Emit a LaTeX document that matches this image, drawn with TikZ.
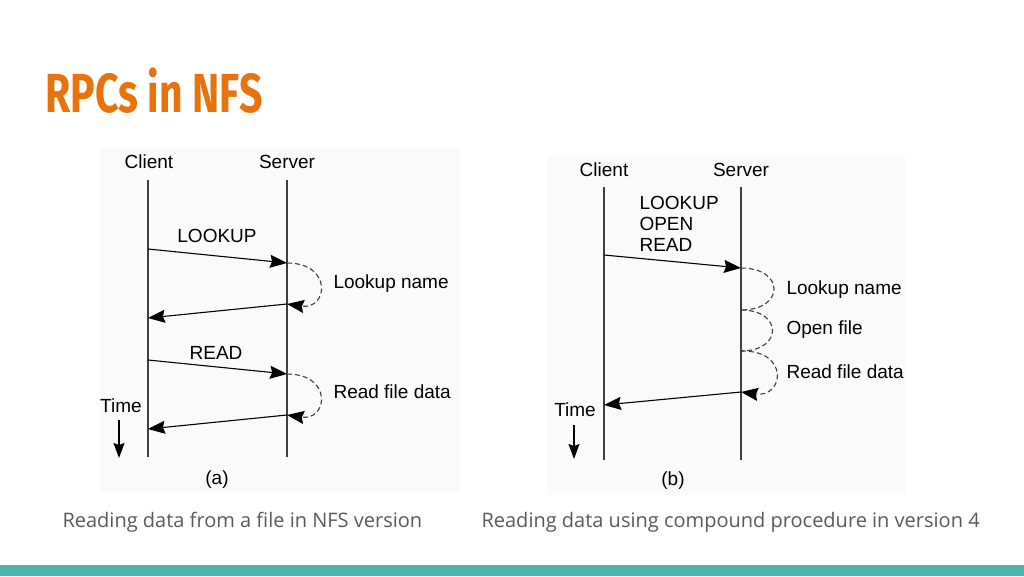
\documentclass[tikz,border=0pt]{standalone}
\usepackage{fontspec}
\setmainfont{Liberation Sans}
\newfontfamily\titlefont{Fira Sans}
\newfontfamily\capfont{Open Sans}
\usetikzlibrary{arrows.meta}
\definecolor{slideorange}{HTML}{E8730C}
\definecolor{slideteal}{HTML}{4DB6AC}
\definecolor{capgray}{HTML}{5A5A5A}

\begin{document}
\begin{tikzpicture}[x=1pt,y=-1pt]
            \tikzset{
            rpc label/.style={font=\fontsize{19}{21}\selectfont},
            rpc line/.style={draw=black!75,line width=1.2pt},
            rpc tip/.style={-{Stealth[length=17pt,width=13pt,inset=2pt,color=black]}},
            rpc msg/.style={line width=1.1pt,rpc tip},
            rpc work/.style={dash pattern=on 5pt off 3pt,draw=black!75,line width=1.1pt},
            rpc time/.style={line width=1.3pt,-{Stealth[length=15pt,width=11pt,inset=2pt]}},
            cap text/.style={font=\capfont\fontsize{20}{22}\selectfont,text=capgray}
            }
            \useasboundingbox (0,0) rectangle (1024,576);
            \fill[white] (0,0) rectangle (1024,576);
            \fill[slideteal] (0,565) rectangle (1024,576);
            \node[anchor=west,text=slideorange,inner sep=0] (title) at (45,91)
                {\scalebox{0.745}[1]{\titlefont\bfseries\fontsize{55}{55}\selectfont RPCs in NFS}};

            % (a)
            \fill[black!2] (100,148) rectangle (460,492);
            \node[rpc label] (ca) at (149,162) {Client};
            \node[rpc label] (sa) at (287,162) {Server};
            \coordinate (ca1) at (148,180);
            \coordinate (ca2) at (148,457);
            \coordinate (sa1) at (287,180);
            \coordinate (sa2) at (287,457);
            \path[rpc line] (ca1) -- (ca2) (sa1) -- (sa2);
            \coordinate (a1) at (148,249);
            \coordinate (a2) at (287,263);
            \coordinate (a3) at (287,304);
            \coordinate (a4) at (148,318);
            \coordinate (a5) at (148,360);
            \coordinate (a6) at (287,374);
            \coordinate (a7) at (287,415);
            \coordinate (a8) at (148,429);
            \draw[rpc msg] (a1) -- (a2);
            \draw[rpc msg] (a3) -- (a4);
            \draw[rpc msg] (a5) -- (a6);
            \draw[rpc msg] (a7) -- (a8);
            \draw[rpc work,rpc tip] (a2) .. controls (333,263) and (328,310) .. (a3);
            \draw[rpc work,rpc tip] (a6) .. controls (333,374) and (328,421) .. (a7);
            \node[rpc label] (lk) at (217,236) {LOOKUP};
            \node[rpc label] (rd) at (216,353) {READ};
            \node[rpc label,anchor=west] (lna) at (330,284) {Lookup name};
            \node[rpc label,anchor=west] (rfa) at (330,392) {Read file data};
            \node[rpc label] (ta) at (121,406) {Time};
            \coordinate (ta1) at (119,420);
            \coordinate (ta2) at (119,458);
            \draw[rpc time] (ta1) -- (ta2);
            \node[rpc label] (pa) at (217,480) {(a)};

            % (b)
            \fill[black!2] (547,155) rectangle (905,495);
            \node[rpc label] (cb) at (604,170) {Client};
            \node[rpc label] (sb) at (741,170) {Server};
            \coordinate (cb1) at (604,187);
            \coordinate (cb2) at (604,460);
            \coordinate (sb1) at (741,187);
            \coordinate (sb2) at (741,460);
            \path[rpc line] (cb1) -- (cb2) (sb1) -- (sb2);
            \coordinate (b1) at (604,255);
            \coordinate (b2) at (741,268);
            \coordinate (b3) at (741,310);
            \coordinate (b4) at (741,351);
            \coordinate (b5) at (741,392);
            \coordinate (b6) at (604,405);
            \draw[rpc msg] (b1) -- (b2);
            \draw[rpc msg] (b5) -- (b6);
            \draw[rpc work] (b2) .. controls (785,268) and (785,310) .. (b3);
            \draw[rpc work] (b3) .. controls (783,310) and (783,351) .. (b4);
            \draw[rpc work,rpc tip] (b4) .. controls (790,350) and (784,398) .. (b5);
            \node[rpc label,anchor=west,align=left] (ops) at (636,224) {LOOKUP\\OPEN\\READ};
            \node[rpc label,anchor=west] (lnb) at (783,290) {Lookup name};
            \node[rpc label,anchor=west] (ofb) at (783,330) {Open file};
            \node[rpc label,anchor=west] (rfb) at (783,372) {Read file data};
            \node[rpc label] (tb) at (575,410) {Time};
            \coordinate (tb1) at (574,425);
            \coordinate (tb2) at (574,459);
            \draw[rpc time] (tb1) -- (tb2);
            \node[rpc label] (pb) at (673,481) {(b)};

            \node[cap text,anchor=west] (capa) at (59,522) {Reading data from a file in NFS version};
            \node[cap text,anchor=west] (capb) at (478,522) {Reading data using compound procedure in version 4};
\end{tikzpicture}
\end{document}
